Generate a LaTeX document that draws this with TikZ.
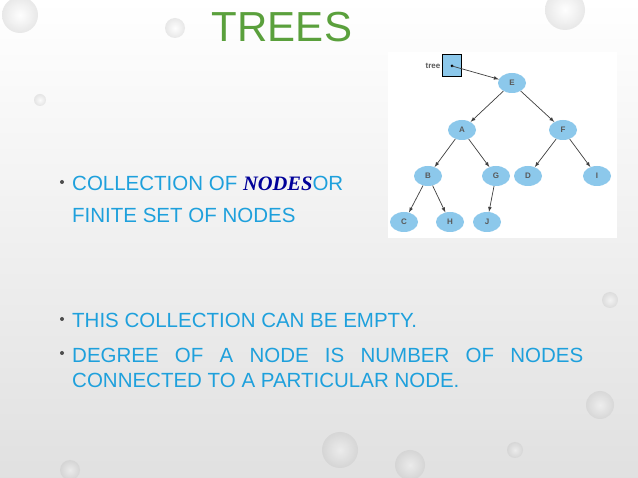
\documentclass[tikz,border=0pt]{standalone}
\usepackage{fontspec}
\setmainfont{Liberation Sans}
\newfontfamily\oddfont{Liberation Serif}
\begin{document}
\begin{tikzpicture}[x=1pt,y=-1pt,
  txt/.style={text=bodyc,font=\fontsize{20.5}{28}\selectfont,inner sep=0,anchor=west},
  tn/.style={ellipse,fill=nodec,minimum width=28,minimum height=20,inner sep=0,font=\fontsize{8}{9}\selectfont\bfseries,text=black!65},
  ar/.style={-latex,draw=black!75,line width=0.7}]
\usetikzlibrary{shapes.geometric}
\definecolor{bodyc}{RGB}{30,160,220}
\definecolor{nodec}{RGB}{140,200,235}
\definecolor{titlec}{RGB}{90,160,60}
\useasboundingbox (0,0) rectangle (638,478);
\shade[top color=white,bottom color=black!12] (0,0) rectangle (638,478);
\foreach \x/\y/\r in {20/15/18,175/28/10,40/100/6,565/10/20,610/300/8,600/405/14,340/450/18,410/465/15,515/450/8,70/470/10}
  \shade[inner color=white,outer color=black!25,opacity=0.35] (\x,\y) circle (\r);
\node[text=titlec,font=\fontsize{42}{42}\selectfont,inner sep=0] (title) at (282,27) {TREES};
\fill[white] (388,52) rectangle (617,238);
\node[draw,fill=nodec,line width=1,minimum width=19,minimum height=22,inner sep=0] (box) at (452,66) {};
\node[font=\fontsize{8}{9}\selectfont\bfseries,text=black!65,anchor=east,inner sep=1.5] (lab) at (box.west) {tree};
\fill (box.center) circle (1.5);
\node[tn] (E) at (512,83) {E};
\node[tn] (A) at (462,130) {A};
\node[tn] (F) at (563,130) {F};
\node[tn] (B) at (428,176) {B};
\node[tn] (G) at (496,176) {G};
\node[tn] (D) at (528,176) {D};
\node[tn] (I) at (597,176) {I};
\node[tn] (C) at (404,222) {C};
\node[tn] (H) at (450,222) {H};
\node[tn] (J) at (487,222) {J};
\draw[ar] (box.center) -- (E);
\draw[ar] (E) -- (A); \draw[ar] (E) -- (F);
\draw[ar] (A) -- (B); \draw[ar] (A) -- (G);
\draw[ar] (F) -- (D); \draw[ar] (F) -- (I);
\draw[ar] (B) -- (C); \draw[ar] (B) -- (H);
\draw[ar] (G) -- (J);
\foreach \y/\n in {182/b1,319/b3,353/b4}
  \node[circle,fill=black!70,inner sep=0,minimum size=4] (\n) at (62,\y) {};
\node[txt] (t1) at (72,183) {COLLECTION OF {\oddfont\bfseries\itshape\color{blue!60!black}NODES}OR};
\node[txt] (t2) at (72,215) {FINITE SET OF NODES};
\node[txt] (t3) at (72,320) {THIS COLLECTION CAN BE EMPTY.};
\node[txt] (t4) at (72,355) {\hbox to 511pt{DEGREE\hfil OF\hfil A\hfil NODE\hfil IS\hfil NUMBER\hfil OF\hfil NODES}};
\node[txt] (t5) at (72,380) {CONNECTED TO A PARTICULAR NODE.};
\end{tikzpicture}
\end{document}
